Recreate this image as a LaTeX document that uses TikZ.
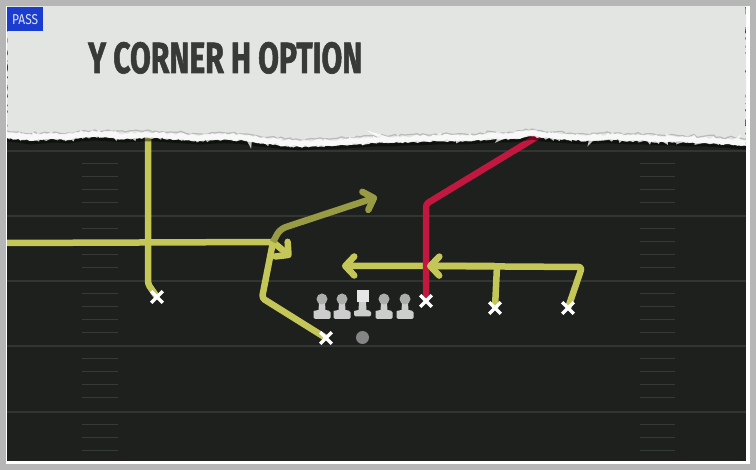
\documentclass[tikz,border=0pt]{standalone}
\usepackage{fontspec}
\newfontfamily\titlefont{Fira Sans}
\newfontfamily\heavytitle{Fira Sans}[UprightFont=*-Bold, FakeBold=1.6]
\usetikzlibrary{arrows.meta,shapes.misc,decorations.pathmorphing}
\pgfdeclarelayer{framelayer}
\pgfdeclarelayer{fieldlayer}
\pgfdeclarelayer{routelayer}
\pgfdeclarelayer{paperlayer}
\pgfsetlayers{framelayer,fieldlayer,routelayer,main,paperlayer}
\definecolor{frameg}{HTML}{B6B6B6}
\definecolor{fieldc}{HTML}{1D201D}
\definecolor{yardc}{HTML}{323632}
\definecolor{hashc}{HTML}{363A36}
\definecolor{routey}{HTML}{C4C658}
\definecolor{routeo}{HTML}{989B44}
\definecolor{router}{HTML}{C2183F}
\definecolor{paperc}{HTML}{E3E5E3}
\definecolor{titlec}{HTML}{383A38}
\definecolor{passc}{HTML}{1B3DCF}
\definecolor{passtext}{HTML}{DDE2FF}
\definecolor{bodyc}{HTML}{CDCDCD}
\definecolor{headc}{HTML}{ADADAD}
\definecolor{centc}{HTML}{E6E6E6}
\definecolor{qbc}{HTML}{858585}
\tikzset{
  route/.style={line width=6.5pt, line join=round, rounded corners=3pt},
  tipped/.style={-{Straight Barb[length=9pt,width=19pt,round]}},
  xmark/.style={cross out, draw=white, line width=3.2pt, minimum size=8.5pt, inner sep=0pt},
  qbdot/.style={circle, fill=qbc, minimum size=13pt, inner sep=0pt},
  yardline/.style={draw=yardc, line width=1.3pt},
  hashline/.style={draw=hashc, line width=1pt},
  imgclip/.style={insert path={(7,7) rectangle (746,461)}},
  tearedge/.style={insert path={-- (7,138) -- (18,139) -- (30,141) -- (42,140) -- (55,139) -- (68,140) -- (80,138) -- (95,137) -- (110,138) -- (125,139) -- (140,138) -- (155,138) -- (170,139) -- (185,140) -- (200,141) -- (215,140) -- (230,140) -- (245,141) -- (258,143) -- (270,144) -- (285,146) -- (300,147) -- (315,146) -- (330,146) -- (345,145) -- (360,144) -- (375,143) -- (390,143) -- (405,142) -- (420,142) -- (435,141) -- (450,141) -- (465,141) -- (480,140) -- (495,139) -- (510,139) -- (522,138) -- (532,136) -- (542,138) -- (555,139) -- (570,140) -- (585,141) -- (600,140) -- (615,140) -- (630,141) -- (645,141) -- (660,142) -- (675,142) -- (690,143) -- (705,143) -- (720,144) -- (735,145) -- (746,146)}},
  lineman/.pic={
    \fill[bodyc] (-8.5,12) [rounded corners=1.5pt] -- (-8.5,20) -- (8.5,20) -- (8.5,12) [sharp corners] -- (3.5,11) -- (3,4) -- (-3,4) -- (-3.5,11) -- cycle;
    \fill[headc] (0,0) circle (5.5);
  },
  centerman/.pic={
    \fill[bodyc] (-8.5,12) [rounded corners=1.5pt] -- (-8.5,17.5) -- (8.5,17.5) -- (8.5,12) [sharp corners] -- (4,11) -- (3.5,3) -- (-3.5,3) -- (-4,11) -- cycle;
    \fill[centc] (-6,-8.5) rectangle (6,3.5);
  },
}
\begin{document}
\begin{tikzpicture}[x=1pt,y=-1pt]
\pgfmathsetseed{11}
\useasboundingbox (0,0) rectangle (756,470);
% frame
\begin{pgfonlayer}{framelayer}
\fill[frameg] (0,0) rectangle (756,470);
\fill[white] (6,6) rectangle (750,464);
\end{pgfonlayer}
% field
\begin{pgfonlayer}{fieldlayer}
\begin{scope}
\clip[imgclip];
\fill[fieldc] (7,7) rectangle (746,461);
\foreach \yy in {151,216,281,346,412}
  \draw[yardline] (7,\yy) -- (746,\yy);
\foreach \yy in {151,216,281,346,412}
  \foreach \k in {1,2,3,4}
  {
    \draw[hashline] (82,\yy+13*\k) -- (118,\yy+13*\k);
    \draw[hashline] (640,\yy+13*\k) -- (675,\yy+13*\k);
  }
\end{scope}
\end{pgfonlayer}
% players
\node[xmark] (wr) at (157,297) {};
\node[xmark] (rb) at (326,338) {};
\node[xmark] (te) at (426,301) {};
\node[xmark] (sl) at (495,308) {};
\node[xmark] (wo) at (568,308) {};
\node[qbdot] (qb) at (362.5,337.5) {};
\pic at (322,299) {lineman};
\pic at (342,299) {lineman};
\pic at (362.5,299) {centerman};
\pic at (384,299) {lineman};
\pic at (405,299) {lineman};
% route coordinates
\coordinate (wrbreak) at (148,284);
\coordinate (wrend) at (148,120);
\coordinate (leftin) at (7,243);
\coordinate (rbcut) at (262,298);
\coordinate (rbturn) at (273,242);
\coordinate (rbtip) at (291,257);
\coordinate (obend) at (280,229);
\coordinate (otip) at (377,197);
\coordinate (slbreak) at (497,266);
\coordinate (sltip) at (342,266);
\coordinate (wobreak) at (582,267);
\coordinate (wotip) at (427,266);
\coordinate (tebreak) at (426,204);
\coordinate (teend) at (548,130);
% routes
\begin{pgfonlayer}{routelayer}
\begin{scope}
\clip[imgclip];
\draw[route, routey] (wr.center) -- (wrbreak) -- (wrend);
\draw[route, routey] (leftin) -- (rbturn);
\draw[route, routey, tipped] (rb.center) -- (rbcut) -- (rbturn) -- (rbtip);
\draw[route, routeo, tipped, rounded corners=6pt] (rbturn) -- (obend) -- (otip);
\draw[route, routey, tipped] (sl.center) -- (slbreak) -- (sltip);
\draw[route, router] (te.center) -- (tebreak) -- (teend);
\draw[route, routey, tipped] (wo.center) -- (wobreak) -- (wotip);
\end{scope}
\end{pgfonlayer}
% torn paper
\begin{pgfonlayer}{paperlayer}
\begin{scope}
\clip[imgclip];
\draw[black, opacity=0.45, line width=3pt, transform canvas={yshift=-2pt}] (7,138) [tearedge];
\fill[paperc, decorate, decoration={random steps, segment length=3pt, amplitude=1pt}] (746,0) -- (7,0) [tearedge] -- cycle;
\draw[gray!70!paperc, line width=1.2pt, opacity=0.6, decorate, decoration={random steps, segment length=4pt, amplitude=1.5pt}, transform canvas={yshift=7pt}] (7,138) [tearedge];
\draw[white, line width=5pt, opacity=0.75, decorate, decoration={random steps, segment length=2pt, amplitude=1.4pt}, transform canvas={yshift=3pt}] (7,138) [tearedge];
\end{scope}
\node[fill=passc, minimum width=36pt, minimum height=24pt, inner sep=0pt, anchor=north west, text=passtext] (pass) at (7,7) {\resizebox{26pt}{10pt}{\titlefont PASS}};
\node[anchor=base west, inner sep=0pt, text=titlec] (title) at (88,73) {\resizebox{274pt}{31pt}{\heavytitle Y CORNER H OPTION}};
\end{pgfonlayer}
\end{tikzpicture}
\end{document}
